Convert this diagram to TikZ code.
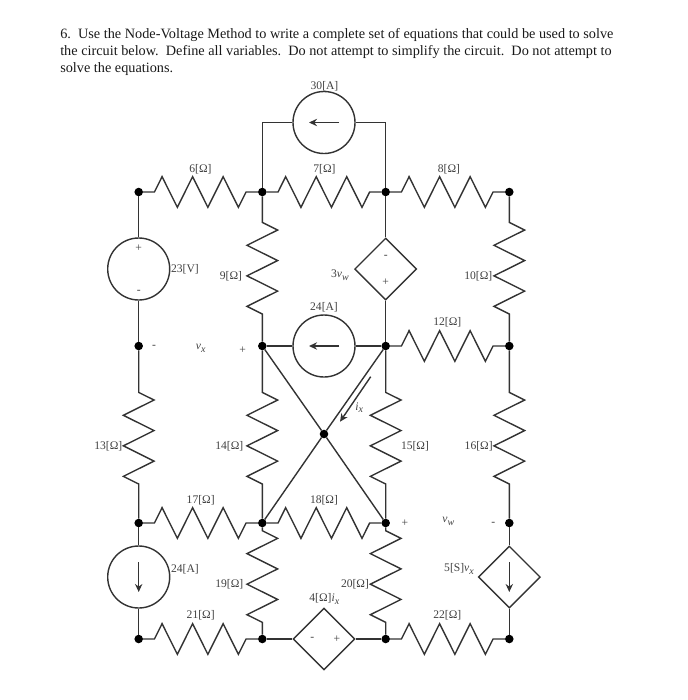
\documentclass[tikz,border=0pt]{standalone}
\usepackage{fontspec}
\setmainfont{Liberation Serif}
\usetikzlibrary{shapes.geometric,decorations.pathmorphing,arrows.meta}
\newcommand{\varsub}[2]{\textit{#1}\raisebox{-2pt}{\fontsize{7.5}{8}\selectfont\textit{#2}}}
\definecolor{wirecol}{gray}{0.2}
\definecolor{labelcol}{gray}{0.25}
\tikzset{
  wire/.style={draw=wirecol,line width=1.05pt},
  dot/.style={circle,fill=black,inner sep=0pt,outer sep=0pt,minimum size=6.4pt},
  source/.style={circle,wire,fill=white,inner sep=0pt,minimum size=46.5pt},
  depsource/.style={diamond,wire,fill=white,inner sep=0pt,minimum size=46.5pt},
  label/.style={text=labelcol,inner sep=0pt,font=\fontsize{8.7}{10}\selectfont},
  resistor/.style={wire,decorate,decoration={zigzag,segment length=22.9pt,amplitude=11.5pt,pre length=#1}},
  horiz/.style={resistor=8.6pt,decoration={post length=8.6pt}},
  longvert/.style={resistor=31.6pt,decoration={post length=25.4pt}},
  upvert/.style={resistor=19.6pt,decoration={post length=20.1pt}},
  lowvert/.style={resistor=2.6pt,decoration={post length=8.7pt}},
  srcarrow/.style={wire,-{Stealth[length=6pt,width=5.5pt]}}
}
\begin{document}
\begin{tikzpicture}[x=0.75pt,y=-0.75pt]
\useasboundingbox (0,0) rectangle (687,700);

\node at (60,52) [anchor=west,align=left,inner sep=0pt,text=black!90,font=\fontsize{10.7}{12.75}\selectfont] (question) {6.~~Use the Node-Voltage Method to write a complete set of equations that could be used to solve\\
the circuit below.~~Define all variables.~~Do not attempt to simplify the circuit.~~Do not attempt to\\
solve the equations.};

\node at (138.7,192) [dot] (ta) {};
\node at (262.3,192) [dot] (tb) {};
\node at (385.7,192) [dot] (tc) {};
\node at (509.3,192) [dot] (td) {};
\node at (138.7,346) [dot] (ma) {};
\node at (262.3,346) [dot] (mb) {};
\node at (385.7,346) [dot] (mc) {};
\node at (509.3,346) [dot] (md) {};
\node at (324,434) [dot] (cen) {};
\node at (138.7,523) [dot] (la) {};
\node at (262.3,523) [dot] (lb) {};
\node at (385.7,523) [dot] (lc) {};
\node at (509.3,523) [dot] (ld) {};
\node at (138.7,639) [dot] (ba) {};
\node at (262.3,639) [dot] (bb) {};
\node at (385.7,639) [dot] (bc) {};
\node at (509.3,639) [dot] (bd) {};

\node at (324,122.5) [source] (isa) {};
\node at (138.7,269) [source] (vsa) {};
\node at (324,346) [source] (isb) {};
\node at (138.7,577) [source] (isc) {};
\node at (385.7,269) [depsource] (vdep) {};
\node at (324,639) [depsource] (rdep) {};
\node at (509.3,577) [depsource] (gdep) {};

\draw[horiz] (ta) -- (tb);
\draw[horiz] (tb) -- (tc);
\draw[horiz] (tc) -- (td);
\draw[horiz] (mc) -- (md);
\draw[horiz] (la) -- (lb);
\draw[horiz] (lb) -- (lc);
\draw[horiz] (ba) -- (bb);
\draw[horiz] (bc) -- (bd);
\draw[upvert] (tb) -- (mb);
\draw[upvert] (td) -- (md);
\draw[longvert] (ma) -- (la);
\draw[longvert] (mb) -- (lb);
\draw[longvert] (mc) -- (lc);
\draw[longvert] (md) -- (ld);
\draw[lowvert] (lb) -- (bb);
\draw[lowvert] (lc) -- (bc);

\draw[wire] (tb) |- (isa);
\draw[wire] (tc) |- (isa);
\draw[wire] (ta) -- (vsa);
\draw[wire] (vsa) -- (ma);
\draw[wire] (tc) -- (vdep);
\draw[wire] (vdep) -- (mc);
\draw[wire] (mb) -- (isb);
\draw[wire] (isb) -- (mc);
\draw[wire] (mb) -- (cen);
\draw[wire] (mc) -- (cen);
\draw[wire] (lb) -- (cen);
\draw[wire] (lc) -- (cen);
\draw[wire] (la) -- (isc);
\draw[wire] (isc) -- (ba);
\draw[wire] (bb) -- (rdep);
\draw[wire] (rdep) -- (bc);
\draw[wire] (ld) -- (gdep);
\draw[wire] (gdep) -- (bd);

\coordinate (isaend) at (339,122.5);
\coordinate (isatip) at (309,122.5);
\coordinate (isbend) at (339,346);
\coordinate (isbtip) at (309,346);
\coordinate (iscend) at (138.7,562);
\coordinate (isctip) at (138.7,592);
\coordinate (gdepend) at (509.3,562);
\coordinate (gdeptip) at (509.3,592);
\coordinate (ixend) at (370.7,376.7);
\coordinate (ixtip) at (340,421.7);
\draw[srcarrow] (isaend) -- (isatip);
\draw[srcarrow] (isbend) -- (isbtip);
\draw[srcarrow] (iscend) -- (isctip);
\draw[srcarrow] (gdepend) -- (gdeptip);
\draw[srcarrow] (ixend) -- (ixtip);

\node at (324.5,86) [label] (l30) {30[A]};
\node at (200.5,169) [label] (l6) {6[Ω]};
\node at (324.5,169) [label] (l7) {7[Ω]};
\node at (449,169) [label] (l8) {8[Ω]};
\node at (185,269) [label] (l23) {23[V]};
\node at (231,276) [label] (l9) {9[Ω]};
\node at (340,275) [label] (lvw) {3\varsub{v}{w}};
\node at (478.3,276) [label] (l10) {10[Ω]};
\node at (447.3,322.3) [label] (l12) {12[Ω]};
\node at (324,307.3) [label] (l24) {24[A]};
\node at (359.3,407.7) [label] (lix) {\varsub{i}{x}};
\node at (108.3,446) [label] (l13) {13[Ω]};
\node at (229.3,446) [label] (l14) {14[Ω]};
\node at (415,446) [label] (l15) {15[Ω]};
\node at (478.7,446) [label] (l16) {16[Ω]};
\node at (200.7,500) [label] (l17) {17[Ω]};
\node at (324,500) [label] (l18) {18[Ω]};
\node at (185,569.3) [label] (l24b) {24[A]};
\node at (229.3,584.7) [label] (l19) {19[Ω]};
\node at (355,584.7) [label] (l20) {20[Ω]};
\node at (324.3,599) [label] (l4) {4[Ω]\varsub{i}{x}};
\node at (200.7,615.3) [label] (l21) {21[Ω]};
\node at (447.3,615.3) [label] (l22) {22[Ω]};
\node at (459,569) [label] (l5) {5[S]\varsub{v}{x}};

\node at (138.7,248.3) [label] (vsap) {+};
\node at (138.7,291.7) [label] (vsam) {-};
\node at (154,347.3) [label] (vxm) {-};
\node at (200.7,348.3) [label] (vx) {\varsub{v}{x}};
\node at (242.7,350) [label] (vxp) {+};
\node at (385.7,257.3) [label] (vdepm) {-};
\node at (385.7,282) [label] (vdepp) {+};
\node at (405,523.3) [label] (vwp) {+};
\node at (448.3,521.7) [label] (vw) {\varsub{v}{w}};
\node at (493.3,524.3) [label] (vwm) {-};
\node at (312.3,639) [label] (rdepm) {-};
\node at (337,639) [label] (rdepp) {+};
\end{tikzpicture}
\end{document}
